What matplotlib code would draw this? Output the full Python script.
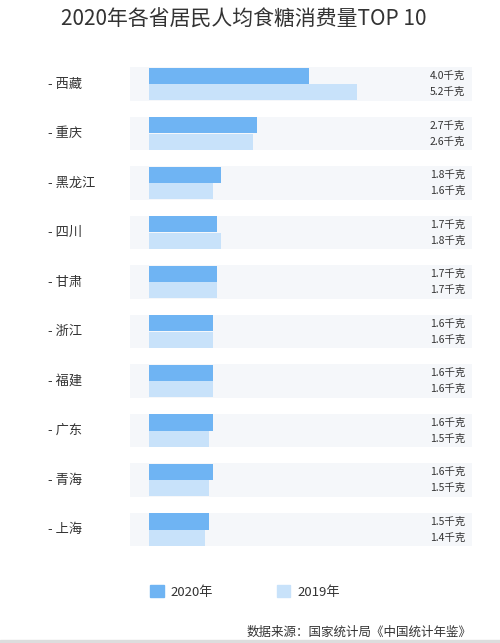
import numpy as np
import matplotlib
matplotlib.use("Agg")
import matplotlib.pyplot as plt
from matplotlib.patches import Patch

plt.rcParams['font.family'] = ['Noto Sans CJK SC', 'DejaVu Sans']

# data
provinces = ['西藏', '重庆', '黑龙江', '四川', '甘肃', '浙江', '福建', '广东', '青海', '上海']
v2020 = [4.0, 2.7, 1.8, 1.7, 1.7, 1.6, 1.6, 1.6, 1.6, 1.5]
v2019 = [5.2, 2.6, 1.6, 1.8, 1.7, 1.6, 1.6, 1.5, 1.5, 1.4]

c2020 = '#6fb4f3'
c2019 = '#c8e2fa'
band = '#f5f7fa'
txt = '#333333'

W, H = 500, 643
fig = plt.figure(figsize=(W / 100, H / 100), dpi=100)

# axes placed in pixel terms
left, right, top, bottom = 130, 472, 59.25, 554.25
ax = fig.add_axes([left / W, 1 - bottom / H, (right - left) / W, (bottom - top) / H])

y = np.arange(len(provinces))
xmin, xmax = -0.475, 8.075
bh = 0.33

ax.barh(y, [xmax - xmin] * len(y), left=xmin, height=0.667, color=band, zorder=0)
ax.barh(y - bh / 2, v2020, height=bh, color=c2020, zorder=2)
ax.barh(y + bh / 2, v2019, height=bh, color=c2019, zorder=2)

trans = ax.get_yaxis_transform()
for i, name in enumerate(provinces):
    ax.text(-0.24, i, '- ' + name, transform=trans, ha='left', va='center',
            fontsize=9.5, color=txt)
    ax.text(0.98, i - bh / 2, f'{v2020[i]:.1f}千克', transform=trans, ha='right',
            va='center', fontsize=7.5, color=txt)
    ax.text(0.98, i + bh / 2, f'{v2019[i]:.1f}千克', transform=trans, ha='right',
            va='center', fontsize=7.5, color=txt)

ax.set_xlim(xmin, xmax)
ax.set_ylim(len(y) - 0.5, -0.5)
ax.axis('off')

fig.text(0.487, 1 - 20 / H, '2020年各省居民人均食糖消费量TOP 10', ha='center', va='center',
         fontsize=15, color=txt)

handles = [Patch(color=c2020, label='2020年'), Patch(color=c2019, label='2019年')]
fig.legend(handles=handles, loc='center', bbox_to_anchor=(0.49, 1 - 592 / H), ncol=2,
           frameon=False, fontsize=9.5, handlelength=1.0, handleheight=1.0,
           handletextpad=0.5, columnspacing=4.9, labelcolor=txt)

fig.text(472 / W, 1 - 632 / H, '数据来源：国家统计局《中国统计年鉴》', ha='right', va='center',
         fontsize=9, color=txt)

# thin gray strip at bottom
fig.patches.append(plt.Rectangle((0, 0), 1, 3 / H, transform=fig.transFigure,
                                 color='#dddddd', zorder=0))

fig.savefig('out.png', dpi=100, facecolor='white')
